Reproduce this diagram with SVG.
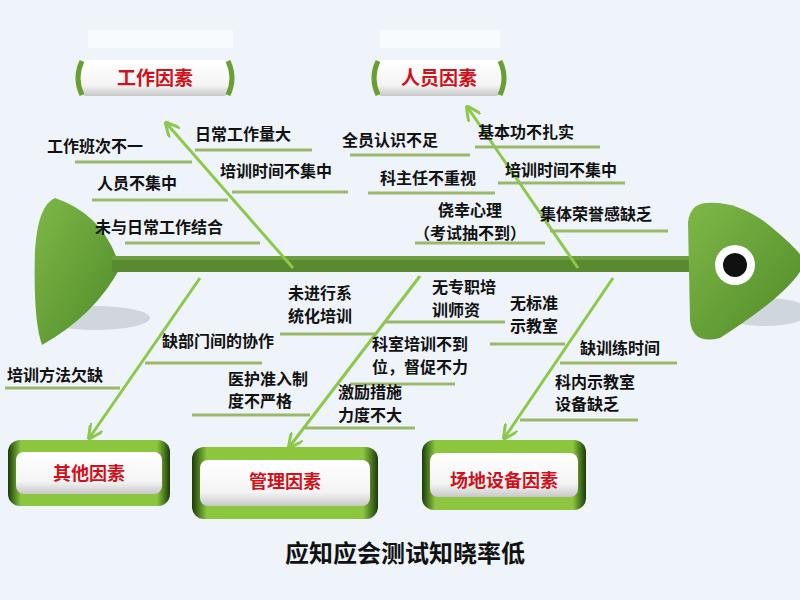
<svg xmlns="http://www.w3.org/2000/svg" width="800" height="600" viewBox="0 0 800 600">
<defs>
<style>
.t{font-family:"Noto Sans CJK SC","Liberation Sans",sans-serif;font-weight:bold;font-size:16px;fill:#111}
.n{font-family:"Noto Sans CJK SC","Liberation Sans",sans-serif;font-weight:bold;fill:#d0101a}
.sub{stroke:#9bb86a;stroke-width:3}
.bone{stroke:#8cc84a;stroke-width:3;fill:none;marker-end:url(#ar)}
</style>
<marker id="ar" viewBox="0 0 10 10" refX="8" refY="5" markerWidth="5" markerHeight="5" orient="auto"><path d="M0,0L10,5L0,10" fill="none" stroke="#8cc84a" stroke-width="2"/></marker>
<linearGradient id="fr" x1="0" y1="0" x2="1" y2="0"><stop offset="0" stop-color="#1a3a08"/><stop offset="0.08" stop-color="#8cc63f"/><stop offset="0.92" stop-color="#8cc63f"/><stop offset="1" stop-color="#1a3a08"/></linearGradient>
<linearGradient id="in" x1="0" y1="0" x2="0" y2="1"><stop offset="0" stop-color="#ffffff"/><stop offset="0.7" stop-color="#f4f4f4"/><stop offset="1" stop-color="#c8c8c8"/></linearGradient>
<linearGradient id="gr" x1="0" y1="0" x2="1" y2="1"><stop offset="0" stop-color="#7fb848"/><stop offset="1" stop-color="#4e8a28"/></linearGradient>
</defs>
<rect width="800" height="600" fill="#eef4fa"/>
<rect x="88" y="30" width="145" height="18" fill="#f8fbfd"/>
<rect x="380" y="30" width="120" height="18" fill="#f8fbfd"/>
<g id="fish">
<ellipse cx="95" cy="318" rx="55" ry="12" fill="#cfd6dc"/>
<path d="M55,198 Q38,205 35,250 Q33,320 42,345 Q95,315 120,268 Q105,215 55,198Z" fill="url(#gr)"/>
<rect x="112" y="256" width="580" height="16" fill="#5a8a30"/>
<rect x="112" y="256" width="580" height="4" fill="#6e9e40"/>
<ellipse cx="765" cy="312" rx="45" ry="14" fill="#cfd6dc"/>
<path d="M705,203 Q735,200 765,222 Q800,250 805,262 Q795,290 720,338 Q692,345 690,320 L688,222 Q690,205 705,203Z" fill="url(#gr)"/>
<circle cx="735" cy="265" r="20" fill="#fff"/>
<circle cx="735" cy="265" r="12" fill="#111"/>
</g>
<g id="connectors">
<path class="bone" d="M293,268L167,124"/>
<path class="bone" d="M578,268L468,108"/>
<path class="bone" d="M200,278L90,437"/>
<path class="bone" d="M420,276L290,446"/>
<path class="bone" d="M613,278L505,437"/>
<line class="sub" x1="75" y1="162" x2="192" y2="162"/>
<line class="sub" x1="195" y1="150" x2="312" y2="150"/>
<line class="sub" x1="92" y1="200" x2="228" y2="200"/>
<line class="sub" x1="232" y1="192" x2="348" y2="192"/>
<line class="sub" x1="125" y1="243" x2="260" y2="243"/>
<line class="sub" x1="350" y1="155" x2="470" y2="155"/>
<line class="sub" x1="475" y1="147" x2="600" y2="147"/>
<line class="sub" x1="368" y1="193" x2="495" y2="193"/>
<line class="sub" x1="498" y1="183" x2="625" y2="183"/>
<line class="sub" x1="415" y1="243" x2="545" y2="243"/>
<line class="sub" x1="550" y1="231" x2="668" y2="231"/>
<line class="sub" x1="280" y1="334" x2="375" y2="334"/>
<line class="sub" x1="145" y1="363" x2="262" y2="363"/>
<line class="sub" x1="5" y1="388" x2="120" y2="388"/>
<line class="sub" x1="192" y1="415" x2="310" y2="415"/>
<line class="sub" x1="385" y1="322" x2="505" y2="322"/>
<line class="sub" x1="490" y1="344" x2="565" y2="344"/>
<line class="sub" x1="350" y1="384" x2="455" y2="384"/>
<line class="sub" x1="305" y1="428" x2="415" y2="428"/>
<line class="sub" x1="560" y1="363" x2="677" y2="363"/>
<line class="sub" x1="520" y1="420" x2="638" y2="420"/>
</g>
<g id="labels">
<text class="t" x="47" y="152" font-size="15">工作班次不一</text>
<text class="t" x="195" y="140" font-size="18">日常工作量大</text>
<text class="t" x="97" y="189">人员不集中</text>
<text class="t" x="220" y="177">培训时间不集中</text>
<text class="t" x="95" y="233">未与日常工作结合</text>
<text class="t" x="342" y="146" font-size="17">全员认识不足</text>
<text class="t" x="478" y="138" font-size="17">基本功不扎实</text>
<text class="t" x="380" y="184">科主任不重视</text>
<text class="t" x="505" y="176">培训时间不集中</text>
<text class="t" x="470" y="216" text-anchor="middle">侥幸心理</text>
<text class="t" x="470" y="239" text-anchor="middle">（考试抽不到）</text>
<text class="t" x="540" y="220">集体荣誉感缺乏</text>
<text class="t" x="288" y="299">未进行系</text>
<text class="t" x="288" y="322">统化培训</text>
<text class="t" x="162" y="347">缺部门间的协作</text>
<text class="t" x="7" y="381">培训方法欠缺</text>
<text class="t" x="228" y="385">医护准入制</text>
<text class="t" x="228" y="407">度不严格</text>
<text class="t" x="432" y="293">无专职培</text>
<text class="t" x="432" y="316">训师资</text>
<text class="t" x="510" y="309">无标准</text>
<text class="t" x="510" y="332">示教室</text>
<text class="t" x="372" y="350">科室培训不到</text>
<text class="t" x="372" y="373">位，督促不力</text>
<text class="t" x="338" y="398">激励措施</text>
<text class="t" x="338" y="421">力度不大</text>
<text class="t" x="580" y="354">缺训练时间</text>
<text class="t" x="555" y="388">科内示教室</text>
<text class="t" x="555" y="410">设备缺乏</text>
</g>
<g id="node-work">
<rect x="80" y="60" width="150" height="36" rx="6" fill="url(#in)"/>
<path d="M82,61 Q74,78 82,95" stroke="#6a9e30" stroke-width="5" fill="none"/>
<path d="M228,61 Q236,78 228,95" stroke="#6a9e30" stroke-width="5" fill="none"/>
<text class="n" x="155" y="85" font-size="19" text-anchor="middle">工作因素</text>
</g>
<g id="node-people">
<rect x="376" y="60" width="126" height="36" rx="6" fill="url(#in)"/>
<path d="M378,61 Q370,78 378,95" stroke="#6a9e30" stroke-width="5" fill="none"/>
<path d="M500,61 Q508,78 500,95" stroke="#6a9e30" stroke-width="5" fill="none"/>
<text class="n" x="439" y="85" font-size="19" text-anchor="middle">人员因素</text>
</g>
<g id="node-other">
<rect x="8" y="440" width="162" height="66" rx="12" fill="url(#fr)"/>
<rect x="16" y="452" width="146" height="42" rx="8" fill="url(#in)"/>
<text class="n" x="89" y="480" font-size="18" text-anchor="middle">其他因素</text>
</g>
<g id="node-manage">
<rect x="192" y="447" width="186" height="72" rx="12" fill="url(#fr)"/>
<rect x="200" y="460" width="170" height="46" rx="8" fill="url(#in)"/>
<text class="n" x="285" y="488" font-size="18" text-anchor="middle">管理因素</text>
</g>
<g id="node-site">
<rect x="422" y="440" width="164" height="70" rx="12" fill="url(#fr)"/>
<rect x="430" y="453" width="148" height="44" rx="8" fill="url(#in)"/>
<text class="n" x="504" y="487" font-size="18" text-anchor="middle">场地设备因素</text>
</g>
<text x="405" y="562" font-family="Noto Sans CJK SC,Liberation Sans,sans-serif" font-weight="bold" font-size="24" fill="#111" text-anchor="middle">应知应会测试知晓率低</text>
</svg>
